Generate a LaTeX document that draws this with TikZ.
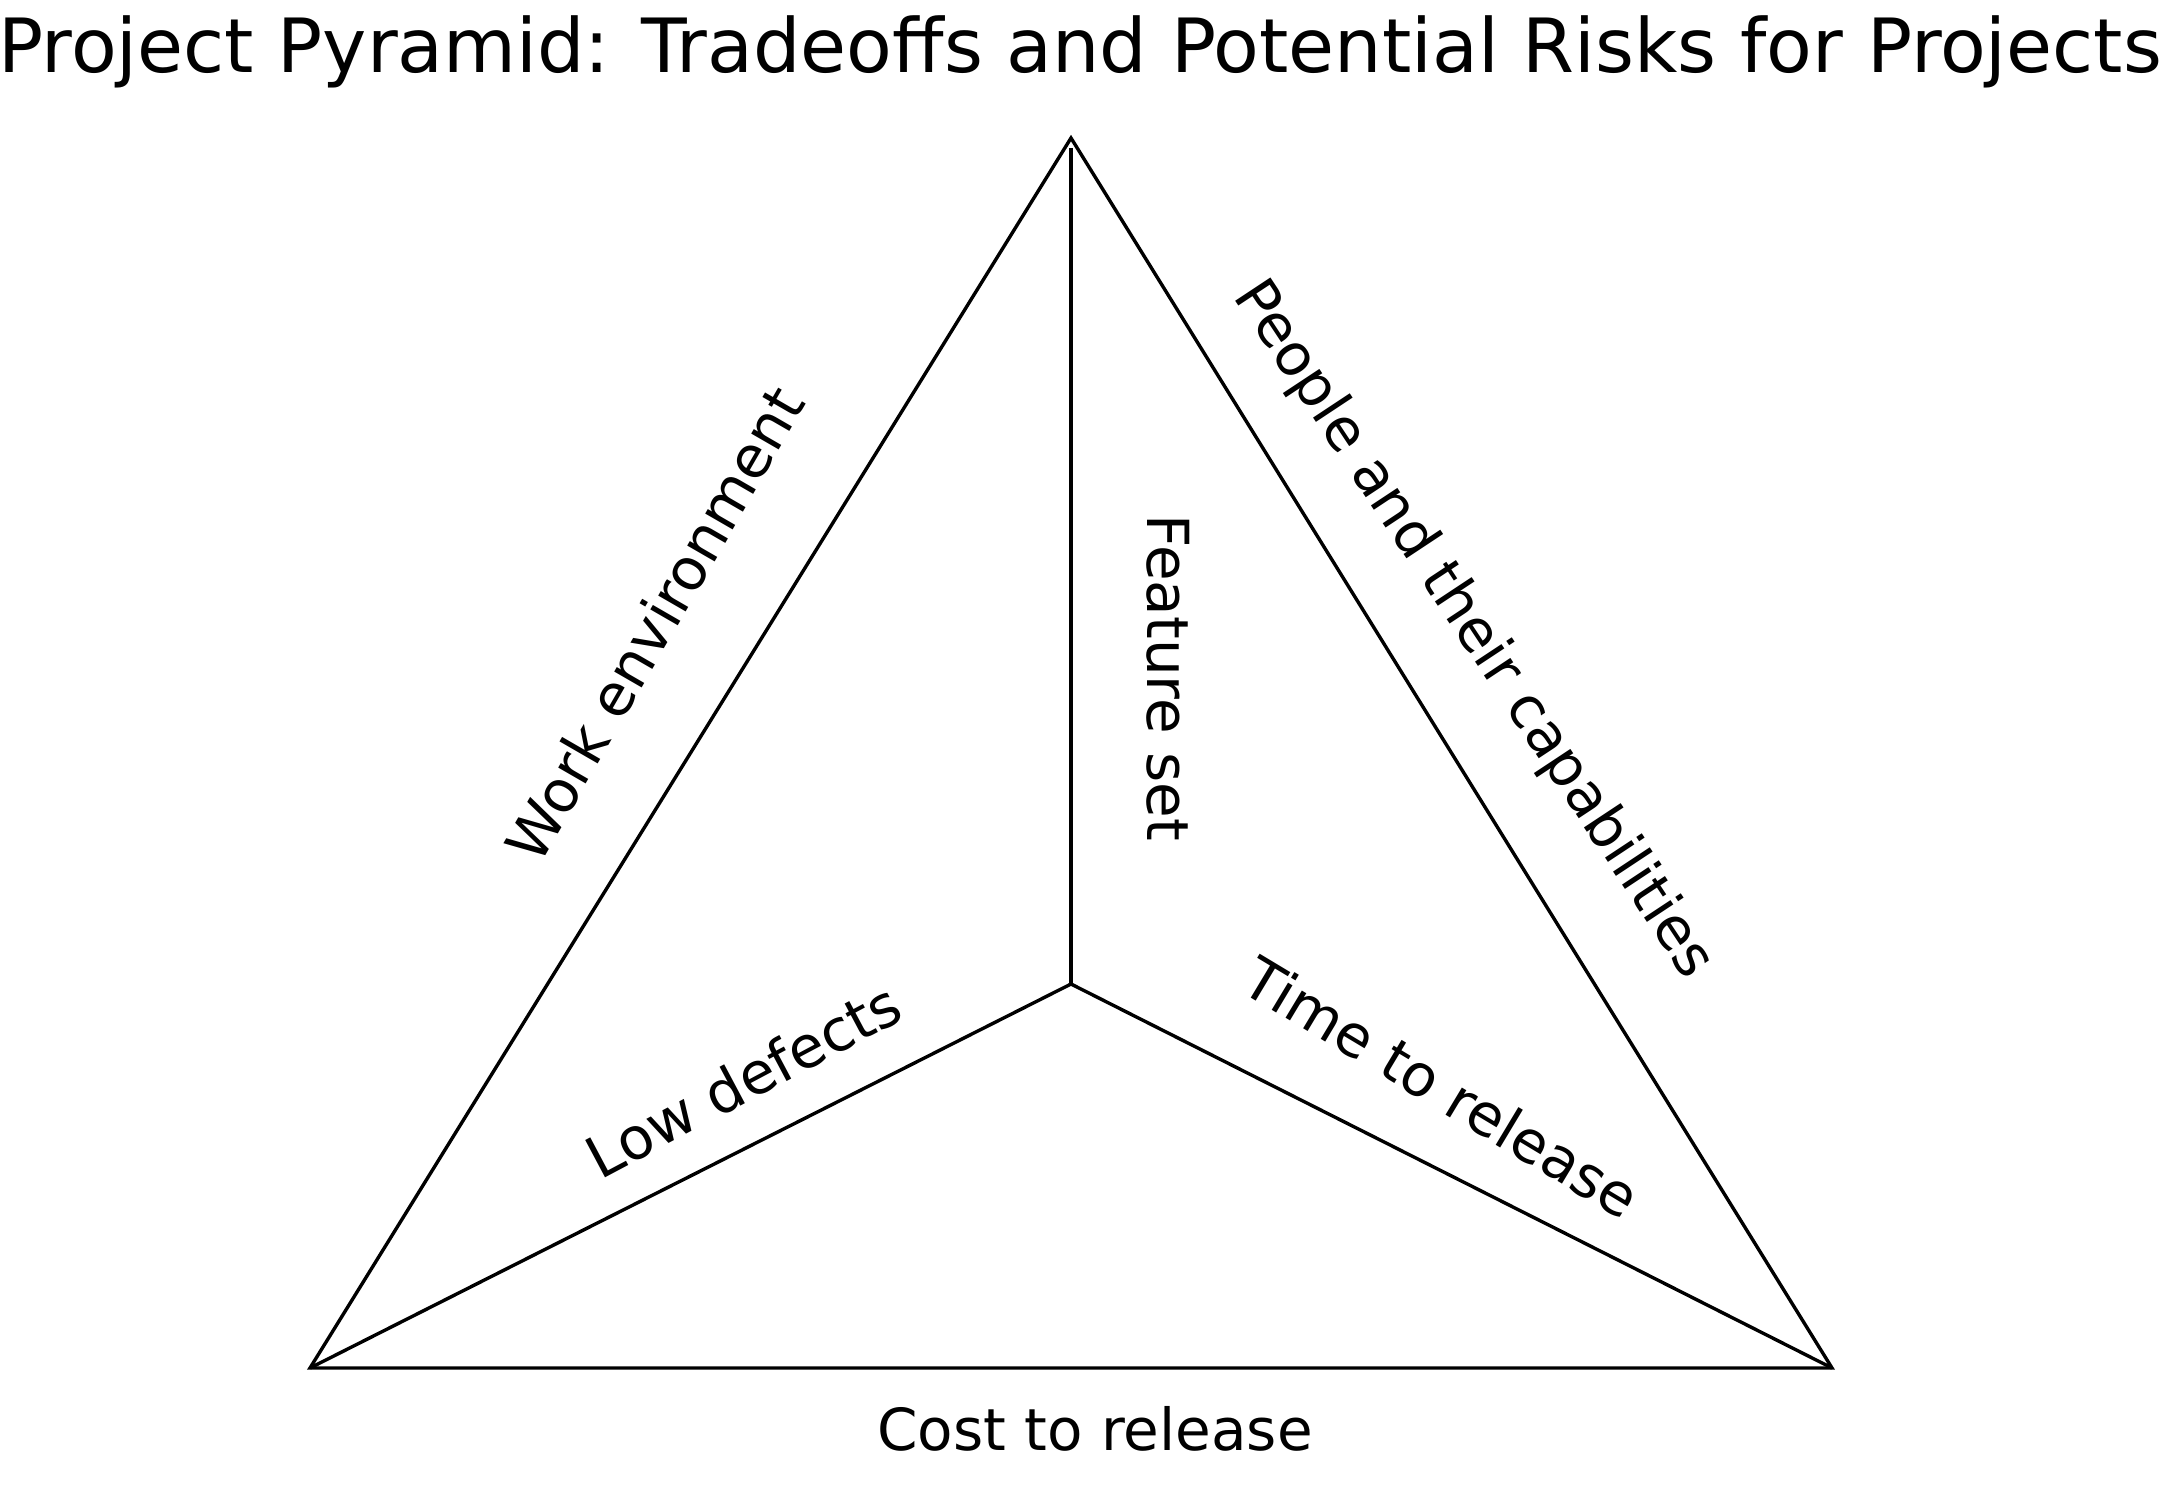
\documentclass[tikz,border=0pt]{standalone}
\usepackage{fontspec}
\setmainfont{DejaVu Sans}
\usetikzlibrary{positioning}

\begin{document}
\begin{tikzpicture}[x=0.5pt, y=-0.5pt,
    edge/.style={line width=1.7pt, line join=miter},
    side/.style={font=\fontsize{29}{34}\selectfont, inner sep=0pt}
  ]
    \useasboundingbox (0,0) rectangle (2166,1491);

    % corners of the pyramid and its centre
    \coordinate (top)   at (1071,138);
    \coordinate (left)  at (310,1368);
    \coordinate (right) at (1832,1368);
    \coordinate (mid)   at (1071,984);

    % title
    \node[font=\fontsize{37.4}{44}\selectfont, inner sep=0pt, anchor=base] (title) at (1080,73)
      {Project Pyramid: Tradeoffs and Potential Risks for Projects};

    % outline and inner edges
    \draw[edge] (top) -- (left) -- (right) -- cycle;
    \draw[edge, shorten >=5pt] (mid) -- (top);
    \draw[edge] (mid) -- (left);
    \draw[edge] (mid) -- (right);

    % labels of the sides
    \node[side, rotate=60]    (work)   at (654,624)  {Work environment};
    \node[side, rotate=-56.5] (people) at (1473,630) {People and their capabilities};
    \node[side, rotate=-90]   (feat)   at (1168,678) {Feature set};
    \node[side, rotate=28]    (defect) at (743,1080) {Low defects};
    \node[side, rotate=-31]   (time)   at (1442,1087) {Time to release};
    \node[side, anchor=base]  (cost)   at (1095,1450) {Cost to release};
  \end{tikzpicture}
\end{document}
